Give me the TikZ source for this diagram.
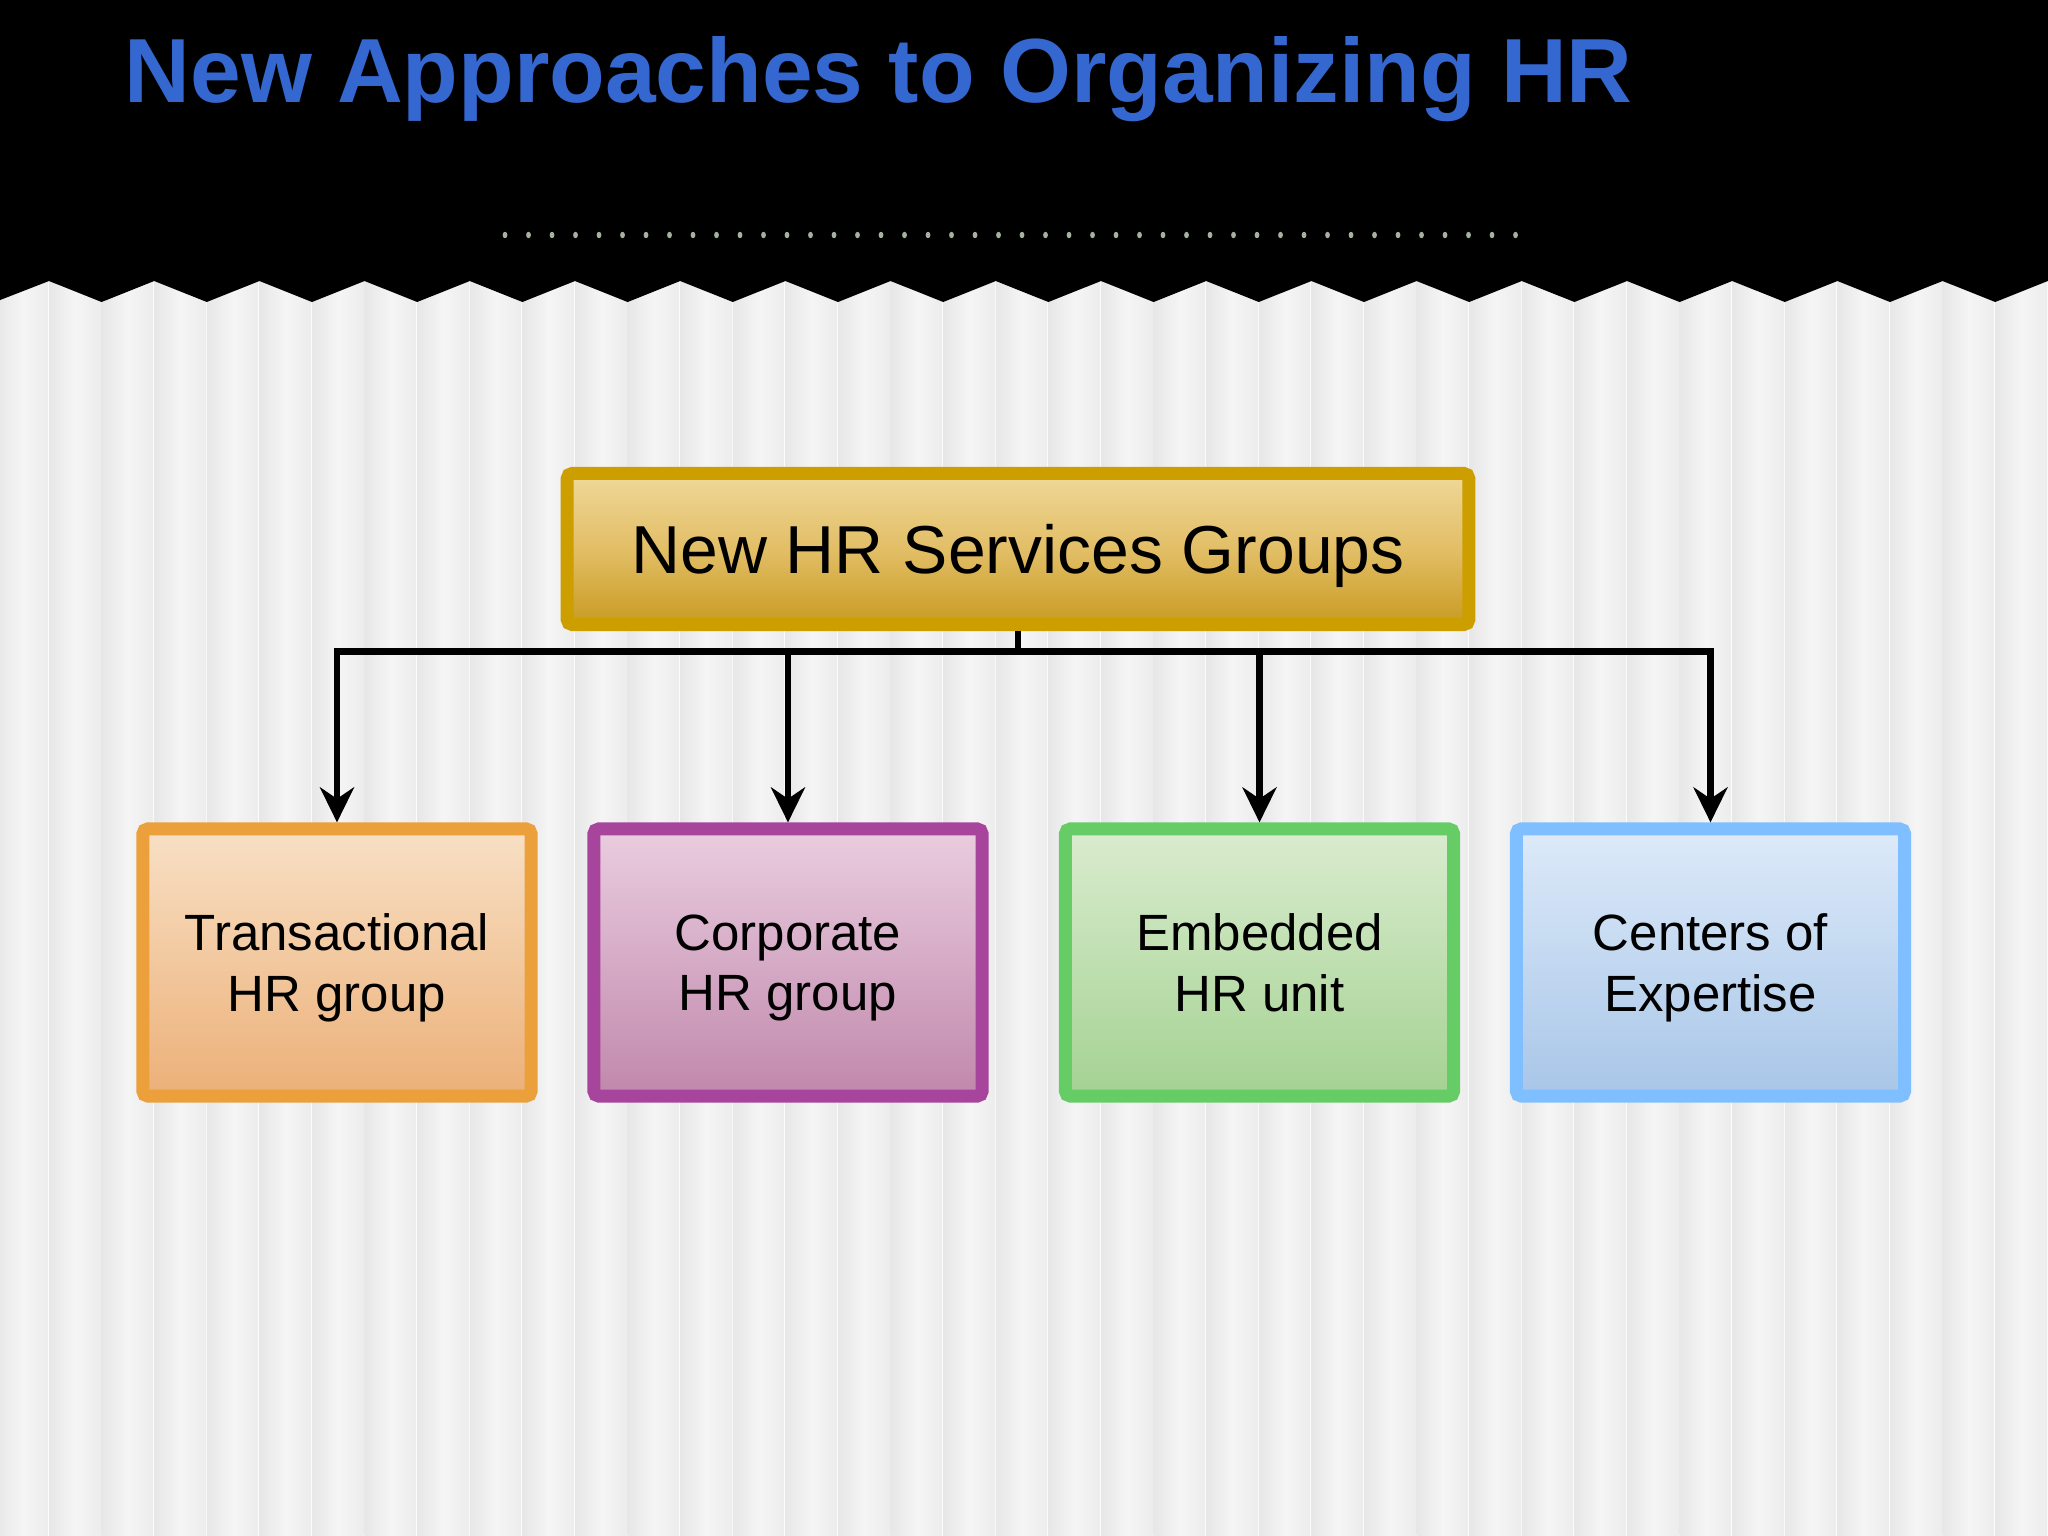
\documentclass[tikz,border=0pt]{standalone}
\usepackage{fontspec}
\setmainfont{Liberation Sans}
\usetikzlibrary{arrows.meta}

\definecolor{titleblue}{RGB}{52,104,208}
\definecolor{dotgray}{RGB}{165,178,160}
\definecolor{stripedark}{RGB}{231,231,232}
\definecolor{stripemid}{RGB}{236,236,237}
\definecolor{stripelight}{RGB}{245,245,246}
\definecolor{goldline}{RGB}{204,158,0}
\definecolor{goldtop}{RGB}{239,216,152}
\definecolor{goldmid}{RGB}{226,190,102}
\definecolor{goldbot}{RGB}{201,155,34}
\definecolor{orangeline}{RGB}{235,160,60}
\definecolor{orangetop}{RGB}{248,224,197}
\definecolor{orangebot}{RGB}{236,176,120}
\definecolor{purpleline}{RGB}{167,68,155}
\definecolor{purpletop}{RGB}{234,205,223}
\definecolor{purplebot}{RGB}{192,136,172}
\definecolor{greenline}{RGB}{102,204,102}
\definecolor{greentop}{RGB}{218,236,207}
\definecolor{greenbot}{RGB}{164,210,146}
\definecolor{blueline}{RGB}{127,191,255}
\definecolor{bluetop}{RGB}{221,234,249}
\definecolor{bluebot}{RGB}{168,198,232}

\newcommand\lastline[1]{\raisebox{0pt}[\height][0pt]{#1}}

\tikzset{
  headbox/.style={shape=rectangle,draw=goldline,line width=0.13cm,rounded corners=0.05cm,
    top color=goldtop,bottom color=goldbot,middle color=goldmid,
    minimum width=9.01cm,minimum height=1.51cm,inner sep=0pt,outer sep=0.065cm,
    text depth=0pt,font=\fontsize{19.3pt}{22pt}\selectfont},
  groupbox/.style={shape=rectangle,draw=#1line,line width=0.13cm,rounded corners=0.05cm,
    top color=#1top,bottom color=#1bot,
    minimum width=3.88cm,minimum height=2.67cm,inner sep=0pt,outer sep=0.065cm,
    align=center,font=\fontsize{14.5pt}{17.1pt}\selectfont},
  link/.style={draw=black,line width=0.065cm},
  linkarrow/.style={link,-{Stealth[length=0.35cm,width=0.34cm]}}
}

\begin{document}
\begin{tikzpicture}[x=0.01cm,y=-0.01cm]
\useasboundingbox (0,0) rectangle (2048,1536);

% folded backdrop
\fill[stripemid] (0,0) rectangle (2048,1536);
\foreach \j in {0,...,39} {
  \shade[left color=stripedark,right color=stripemid,middle color=stripelight]
    ({-3.6+52.6*\j},270) rectangle ({49+52.6*\j},1536);
  \draw[white,opacity=0.8,line width=0.02cm] ({49+52.6*\j},270) -- ({49+52.6*\j},1536);
}
\fill[black] (-5,-5) -- (-5,302)
  foreach \k in {0,...,19} { -- ({49+105.2*\k},281) -- ({101.6+105.2*\k},302) }
  -- (2060,-5) -- cycle;
\foreach \i in {0,...,43}
  \fill[dotgray] ({505+23.5*\i},235) ellipse [x radius=0.024cm,y radius=0.032cm];

\node[anchor=base west,inner sep=0pt,text=titleblue,font=\bfseries\fontsize{25.9pt}{30pt}\selectfont] (title) at (124,102) {New Approaches to Organizing HR};

\node[headbox] (hr) at (1018,549) {New HR Services Groups};

\node[groupbox=orange] (trans) at (337,962.5) {Transactional\\\lastline{HR group}};
\node[groupbox=purple] (corp) at (788,962.5) {Corporate\\\lastline{HR group}};
\node[groupbox=green] (emb) at (1259.5,962.5) {Embedded\\\lastline{HR unit}};
\node[groupbox=blue] (coe) at (1710.5,962.5) {Centers of\\\lastline{Expertise}};

\coordinate (bus) at (1018,651.5);
\draw[link] (hr.south) -- (bus);
\foreach \c in {trans,corp,emb,coe}
  \draw[linkarrow] (bus) -| (\c.north);
\end{tikzpicture}
\end{document}
